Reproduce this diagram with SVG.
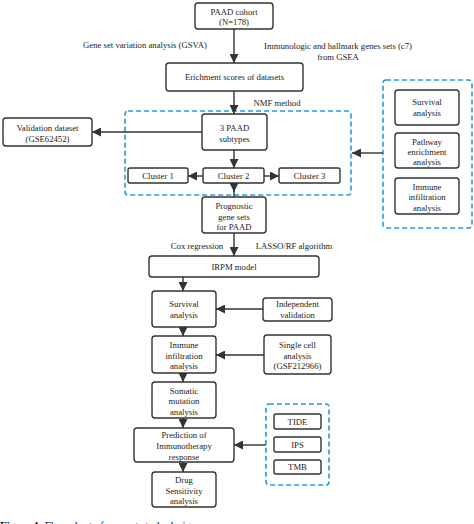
<svg xmlns="http://www.w3.org/2000/svg" width="474" height="524" viewBox="0 0 474 524">
<defs>
<marker id="ah" viewBox="0 0 10 10" refX="10" refY="5" markerWidth="9" markerHeight="9" markerUnits="userSpaceOnUse" orient="auto">
<path d="M0,0 L10,5 L0,10 z" fill="#333"/>
</marker>
<style>
text{font-family:"Liberation Serif","Times New Roman",serif;font-size:8.7px;fill:#222;text-anchor:middle}
.box{fill:#fff;stroke:#333;stroke-width:1.4}
.dash{fill:none;stroke:#2a9ad8;stroke-width:1.6;stroke-dasharray:5,3}
.ln{fill:none;stroke:#333;stroke-width:1.4}
.arr{fill:none;stroke:#333;stroke-width:1.4;marker-end:url(#ah)}
.cap{text-anchor:start;font-size:11px;fill:#111}
</style>
</defs>
<rect width="474" height="524" fill="#fff"/>

<g id="groups">
<rect id="dash-subtypes" class="dash" x="125" y="111" width="226" height="84" rx="3"/>
<rect id="dash-right" class="dash" x="383" y="80" width="89" height="148" rx="3"/>
<rect id="dash-scores" class="dash" x="266" y="404" width="63" height="81" rx="3"/>
</g>

<g id="connectors">
<path class="arr" d="M234,29 V63"/>
<path class="arr" d="M234,91 V114"/>
<path class="arr" d="M202,132 H92"/>
<path class="arr" d="M234,150 V168"/>
<path class="arr" d="M203,176 H188"/>
<path class="arr" d="M264,176 H279"/>
<path class="ln" d="M234,183 V197"/>
<path class="arr" d="M234,183 V192"/>
<path class="arr" d="M383,153 H352"/>
<path class="arr" d="M234,233 V256"/>
<path class="arr" d="M183,277 V291"/>
<path class="arr" d="M263,309 H216"/>
<path class="arr" d="M183,327 V336"/>
<path class="arr" d="M264,355 H216"/>
<path class="arr" d="M183,373 V382"/>
<path class="arr" d="M183,418 V428"/>
<path class="arr" d="M266,445 H234"/>
<path class="arr" d="M183,462 V472"/>
</g>

<g id="labels">
<text x="145" y="48">Gene set variation analysis (GSVA)</text>
<text x="338" y="49">Immunologic and hallmark genes sets (c7)</text>
<text x="338" y="60">from GSEA</text>
<text x="277" y="106">NMF method</text>
<text x="197" y="249">Cox regression</text>
<text x="294" y="249">LASSO/RF algorithm</text>
</g>

<g id="n-cohort"><rect class="box" x="195" y="3" width="78" height="26" rx="3"/><text x="234" y="15">PAAD cohort</text><text x="234" y="25">(N=178)</text></g>
<g id="n-enrich"><rect class="box" x="166" y="63" width="137" height="28" rx="3"/><text x="234.5" y="80">Erichment scores of datasets</text></g>
<g id="n-subtypes"><rect class="box" x="202" y="114" width="65" height="36" rx="3"/><text x="234.5" y="131">3 PAAD</text><text x="234.5" y="142">subtypes</text></g>
<g id="n-validation"><rect class="box" x="3" y="118" width="89" height="28" rx="3"/><text x="47.5" y="131">Validation dataset</text><text x="47.5" y="142">(GSE62452)</text></g>
<g id="n-c1"><rect class="box" x="128" y="168" width="60" height="15" rx="2"/><text x="158" y="179">Cluster 1</text></g>
<g id="n-c2"><rect class="box" x="203" y="168" width="61" height="15" rx="2"/><text x="233.5" y="179">Cluster 2</text></g>
<g id="n-c3"><rect class="box" x="279" y="168" width="61" height="15" rx="2"/><text x="309.5" y="179">Cluster 3</text></g>
<g id="n-prog"><rect class="box" x="202" y="197" width="64" height="36" rx="3"/><text x="234" y="209">Prognostic</text><text x="234" y="220">gene sets</text><text x="234" y="230">for PAAD</text></g>

<g id="n-surv-r"><rect class="box" x="395" y="90" width="64" height="35" rx="3"/><text x="427" y="105">Survival</text><text x="427" y="116">analysis</text></g>
<g id="n-path"><rect class="box" x="395" y="133" width="64" height="35" rx="3"/><text x="427" y="145">Pathway</text><text x="427" y="155">enrichment</text><text x="427" y="165">analysis</text></g>
<g id="n-immune-r"><rect class="box" x="395" y="178" width="64" height="36" rx="3"/><text x="427" y="190">Immune</text><text x="427" y="200">infiltration</text><text x="427" y="211">analysis</text></g>

<g id="n-irpm"><rect class="box" x="149" y="256" width="170" height="21" rx="3"/><text x="234" y="270">IRPM model</text></g>
<g id="n-surv"><rect class="box" x="152" y="291" width="64" height="36" rx="3"/><text x="184" y="307">Survival</text><text x="184" y="318">analysis</text></g>
<g id="n-indep"><rect class="box" x="263" y="298" width="69" height="23" rx="3"/><text x="297.5" y="307">Independent</text><text x="297.5" y="318">validation</text></g>
<g id="n-immune"><rect class="box" x="152" y="336" width="64" height="37" rx="3"/><text x="184" y="348">Immune</text><text x="184" y="359">infiltration</text><text x="184" y="369">analysis</text></g>
<g id="n-single"><rect class="box" x="264" y="335" width="67" height="39" rx="3"/><text x="297.5" y="348">Single cell</text><text x="297.5" y="359">analysis</text><text x="297.5" y="369">(GSF212966)</text></g>
<g id="n-somatic"><rect class="box" x="152" y="382" width="64" height="36" rx="3"/><text x="184" y="394">Somatic</text><text x="184" y="404">mutation</text><text x="184" y="415">analysis</text></g>
<g id="n-pred"><rect class="box" x="134" y="428" width="100" height="34" rx="3"/><text x="184" y="438">Prediction of</text><text x="184" y="449">Immunotherapy</text><text x="184" y="460">response</text></g>
<g id="n-tide"><rect class="box" x="274" y="414" width="47" height="15" rx="2"/><text x="297.5" y="424.5">TIDE</text></g>
<g id="n-ips"><rect class="box" x="274" y="437" width="47" height="15" rx="2"/><text x="297.5" y="447.5">IPS</text></g>
<g id="n-tmb"><rect class="box" x="274" y="460" width="47" height="14" rx="2"/><text x="297.5" y="470">TMB</text></g>
<g id="n-drug"><rect class="box" x="152" y="472" width="64" height="35" rx="3"/><text x="184" y="483">Drug</text><text x="184" y="494">Sensitivity</text><text x="184" y="504">analysis</text></g>

<text class="cap" x="0" y="529"><tspan font-weight="bold">Figure 1.</tspan> Flow chart of present study design</text>
</svg>
